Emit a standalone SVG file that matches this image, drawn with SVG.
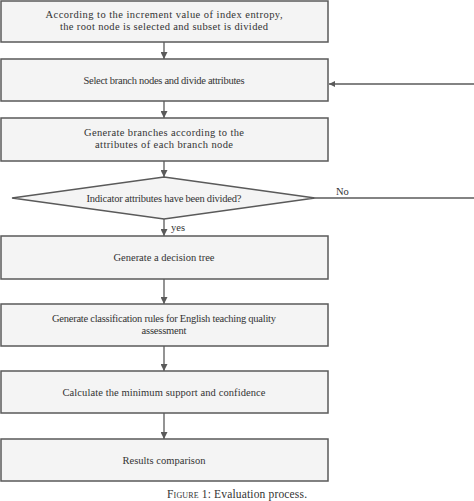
<svg xmlns="http://www.w3.org/2000/svg" width="474" height="501" viewBox="0 0 474 501">
<defs>
<style>
.box{fill:#f4f4f4;stroke:#5a5a5a;stroke-width:1.5}
.t{font-family:"Liberation Serif","DejaVu Serif",serif;font-size:10.5px;fill:#333;text-anchor:middle}
.c{stroke:#5a5a5a;stroke-width:1.3;fill:none}
.lbl{font-family:"Liberation Serif","DejaVu Serif",serif;font-size:10.5px;fill:#333}
</style>
<marker id="ah" viewBox="0 0 10 10" refX="10" refY="5" markerWidth="9" markerHeight="7" markerUnits="userSpaceOnUse" orient="auto">
<path d="M0,0 L10,5 L0,10 z" fill="#5a5a5a"/>
</marker>
<marker id="ahw" viewBox="0 0 10 10" refX="10" refY="5" markerWidth="9" markerHeight="6" markerUnits="userSpaceOnUse" orient="auto">
<path d="M0,0 L10,5 L0,10 z" fill="#5a5a5a"/>
</marker>
</defs>
<rect width="474" height="501" fill="#ffffff"/>
<g id="connectors">
<line class="c" x1="164" y1="42" x2="164" y2="59" marker-end="url(#ah)"/>
<line class="c" x1="164" y1="101" x2="164" y2="118" marker-end="url(#ah)"/>
<line class="c" x1="164" y1="161" x2="164" y2="177" marker-end="url(#ah)"/>
<line class="c" x1="164" y1="219" x2="164" y2="236" marker-end="url(#ah)"/>
<line class="c" x1="164" y1="279" x2="164" y2="304" marker-end="url(#ah)"/>
<line class="c" x1="164" y1="346" x2="164" y2="371" marker-end="url(#ah)"/>
<line class="c" x1="164" y1="413" x2="164" y2="439" marker-end="url(#ah)"/>
<line class="c" x1="315" y1="198" x2="474" y2="198"/>
<line class="c" x1="474" y1="84" x2="329" y2="84" marker-end="url(#ahw)"/>
<text class="lbl" x="336" y="195">No</text>
<text class="lbl" x="171" y="231">yes</text>
</g>
<g id="n1">
<rect class="box" x="1" y="1" width="327" height="41"/>
<text class="t" x="164" y="18" textLength="237">According to the increment value of index entropy,</text>
<text class="t" x="164" y="30" textLength="208">the root node is selected and subset is divided</text>
</g>
<g id="n2">
<rect class="box" x="1" y="59" width="327" height="42"/>
<text class="t" x="164" y="84" textLength="161">Select branch nodes and divide attributes</text>
</g>
<g id="n3">
<rect class="box" x="1" y="118" width="327" height="43"/>
<text class="t" x="164" y="136" textLength="160">Generate branches according to the</text>
<text class="t" x="164" y="148" textLength="138">attributes of each branch node</text>
</g>
<g id="n4">
<polygon class="box" points="164,177 315,198 164,219 12,198"/>
<text class="t" x="164" y="201.5" textLength="155">Indicator attributes have been divided?</text>
</g>
<g id="n5">
<rect class="box" x="1" y="236" width="327" height="43"/>
<text class="t" x="164" y="260.5" textLength="101">Generate a decision tree</text>
</g>
<g id="n6">
<rect class="box" x="1" y="304" width="327" height="42"/>
<text class="t" x="164" y="322" textLength="224">Generate classification rules for English teaching quality</text>
<text class="t" x="164" y="334" textLength="45">assessment</text>
</g>
<g id="n7">
<rect class="box" x="1" y="371" width="327" height="42"/>
<text class="t" x="164" y="396" textLength="203">Calculate the minimum support and confidence</text>
</g>
<g id="n8">
<rect class="box" x="1" y="439" width="327" height="42"/>
<text class="t" x="164" y="463.5" textLength="83">Results comparison</text>
</g>
<text x="237" y="498" text-anchor="middle" font-family="'Liberation Serif','DejaVu Serif',serif" font-size="11.5" fill="#333" textLength="140"><tspan font-variant="small-caps">Figure</tspan> 1: Evaluation process.</text>
</svg>
